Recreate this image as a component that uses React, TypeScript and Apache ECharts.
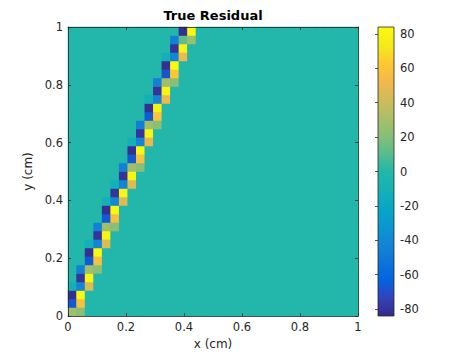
import React, { useEffect, useRef } from "react";
import * as echarts from "echarts";

// ---- data ----
const gridCount = 34; // cells per side on [0,1] x [0,1]
const backgroundValue = 0;
const colorMin = -84;
const colorMax = 84;
const axisTicks = [0, 0.2, 0.4, 0.6, 0.8, 1];
const colorbarTicks = [-80, -60, -40, -20, 0, 20, 40, 60, 80];

// residual cells along the front: [column, row, value]
const bandLower: [number, number, number][] = [
  [0, 0, 28], [1, 0, 22],
  [0, 1, -66], [1, 1, 58],
  [0, 2, -82], [1, 2, 82],
  [0, 3, -12], [1, 3, -42], [2, 3, 46],
  [1, 4, -80], [2, 4, 80],
  [1, 5, -45], [2, 5, 28], [3, 5, 22],
  [2, 6, -66], [3, 6, 58],
  [2, 7, -82], [3, 7, 82],
  [2, 8, -12], [3, 8, -42], [4, 8, 46],
  [3, 9, -80], [4, 9, 80],
  [3, 10, -45], [4, 10, 28], [5, 10, 22],
  [4, 11, -66], [5, 11, 58],
];
const bandMiddle: [number, number, number][] = [
  [4, 12, -82], [5, 12, 82],
  [4, 13, -12], [5, 13, -42], [6, 13, 46],
  [5, 14, -80], [6, 14, 80],
  [5, 15, -12], [6, 15, -42], [7, 15, 46],
  [6, 16, -80], [7, 16, 80],
  [6, 17, -45], [7, 17, 28], [8, 17, 22],
  [7, 18, -66], [8, 18, 58],
  [7, 19, -82], [8, 19, 82],
  [7, 20, -12], [8, 20, -42], [9, 20, 50],
  [8, 21, -80], [9, 21, 80],
  [8, 22, -45], [9, 22, 28], [10, 22, 22],
];
const bandUpper: [number, number, number][] = [
  [9, 23, -66], [10, 23, 60],
  [9, 24, -82], [10, 24, 78],
  [9, 25, -12], [10, 25, -42], [11, 25, 52],
  [10, 26, -80], [11, 26, 80],
  [10, 27, -45], [11, 27, 28], [12, 27, 22],
  [11, 28, -68], [12, 28, 62],
  [11, 29, -82], [12, 29, 82],
  [11, 30, -12], [12, 30, -42], [13, 30, 52],
  [12, 31, -80], [13, 31, 80],
  [12, 32, -45], [13, 32, 12], [14, 32, 26],
  [13, 33, -82], [14, 33, 82],
];

// ---- style ----
const PARULA = [
  "#352a87", "#3243ba", "#0363e1", "#0d75dc", "#1485d4", "#0998d1",
  "#06a7c6", "#15b1b4", "#22b7aa", "#59bd8c", "#87bf77", "#aebe67",
  "#d1bb59", "#f1b94a", "#fec832", "#f5eb18", "#f9fb0e",
];
const FONT = "DejaVu Sans";
const AX = "#262626";
const G = { left: 68, top: 27, width: 290, height: 289 };
const CB = { left: 378, top: 27, width: 16, height: 289 };

export default function App() {
  const ref = useRef<HTMLDivElement>(null);
  useEffect(() => {
    const chart = echarts.init(ref.current!, null, { renderer: "svg" });
    const idx = Array.from({ length: gridCount }, (_, i) => String(i));
    const lookup = new Map<string, number>();
    [...bandLower, ...bandMiddle, ...bandUpper].forEach(([c, r, v]) =>
      lookup.set(c + "," + r, v)
    );
    const heat: number[][] = [];
    for (let r = 0; r < gridCount; r++) {
      for (let c = 0; c < gridCount; c++) {
        const v = lookup.get(c + "," + r);
        heat.push([c, r, v === undefined ? backgroundValue : v]);
      }
    }
    const lineStyle = { color: AX, width: 0.8 };
    const labelStyle = { color: AX, fontSize: 11.5, fontFamily: FONT };
    const frameAxis = (position: string, gridIndex: number, extra: any = {}) => ({
      type: "value",
      gridIndex,
      min: 0,
      max: 1,
      interval: 0.2,
      position,
      z: 10,
      axisLine: { show: true, onZero: false, lineStyle },
      axisTick: { show: true, inside: true, length: 3, lineStyle },
      axisLabel: { show: false },
      splitLine: { show: false },
      ...extra,
    });
    const stops = PARULA.map((c, i) => ({ offset: i / (PARULA.length - 1), color: c }));
    const option: any = {
      animation: false,
      backgroundColor: "#fff",
      grid: [
        { ...G, containLabel: false, show: true, backgroundColor: PARULA[8], borderWidth: 0 },
        { ...CB, containLabel: false },
      ],
      xAxis: [
        { type: "category", gridIndex: 0, data: idx, show: false },
        frameAxis("bottom", 0, {
          axisLabel: { ...labelStyle, margin: 5, customValues: axisTicks },
          name: "x (cm)",
          nameLocation: "middle",
          nameGap: 20,
          nameTextStyle: { color: AX, fontSize: 12, fontFamily: FONT },
        }),
        frameAxis("top", 0),
        { type: "value", gridIndex: 1, show: false, min: 0, max: 1 },
      ],
      yAxis: [
        { type: "category", gridIndex: 0, data: idx, show: false },
        frameAxis("left", 0, {
          axisLabel: { ...labelStyle, margin: 5, customValues: axisTicks },
          name: "y (cm)",
          nameLocation: "middle",
          nameGap: 29,
          nameTextStyle: { color: AX, fontSize: 12, fontFamily: FONT },
        }),
        frameAxis("right", 0),
        {
          type: "value",
          gridIndex: 1,
          min: colorMin,
          max: colorMax,
          position: "right",
          z: 10,
          axisLine: { show: false },
          axisTick: { show: true, inside: true, length: 3, lineStyle, customValues: colorbarTicks },
          axisLabel: { ...labelStyle, margin: 6, customValues: colorbarTicks },
          splitLine: { show: false },
        },
      ],
      visualMap: {
        type: "continuous",
        show: false,
        min: colorMin,
        max: colorMax,
        seriesIndex: 0,
        inRange: { color: PARULA },
      },
      graphic: [
        {
          type: "rect",
          z: 1,
          shape: { x: CB.left, y: CB.top, width: CB.width, height: CB.height },
          style: {
            fill: new echarts.graphic.LinearGradient(0, 1, 0, 0, stops),
            stroke: AX,
            lineWidth: 0.8,
          },
        },
        {
          type: "text",
          x: G.left + G.width / 2,
          y: 15,
          style: {
            text: "True Residual",
            align: "center",
            verticalAlign: "middle",
            fontSize: 13,
            fontWeight: "bold",
            fontFamily: FONT,
            fill: "#000",
          },
        },
      ],
      series: [
        {
          type: "heatmap",
          xAxisIndex: 0,
          yAxisIndex: 0,
          data: heat,
          progressive: 0,
          emphasis: { disabled: true },
          itemStyle: { borderWidth: 0 },
        },
      ],
    };
    chart.setOption(option);
    return () => chart.dispose();
  }, []);
  return (
    <div
      ref={ref}
      style={{ position: "fixed", left: 0, top: 0, width: 474, height: 355, background: "#fff" }}
    />
  );
}
